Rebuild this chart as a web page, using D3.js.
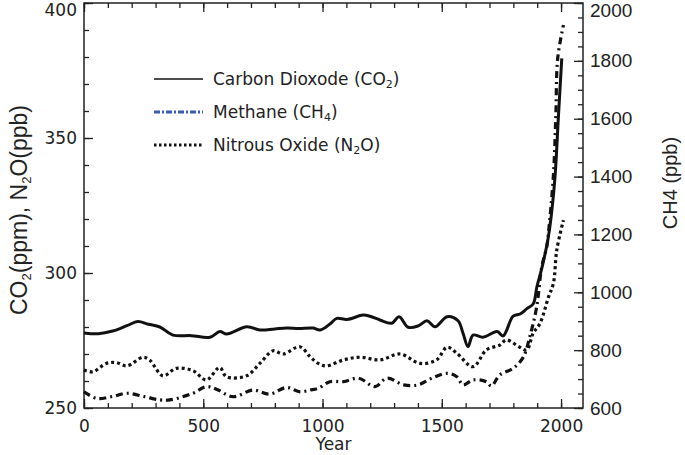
<!DOCTYPE html>
<html>
<head>
<meta charset="utf-8">
<script src="https://cdnjs.cloudflare.com/ajax/libs/d3/7.8.5/d3.min.js"></script>
<style>
  body { margin: 0; background: #fff; }
  text { fill: #222; }
</style>
</head>
<body>
<script>
// data
var co2Years = [0, 60, 120, 180, 226, 270, 318, 373, 450, 528, 570, 598, 683, 738, 800, 851, 900, 960, 990, 1031, 1060, 1102, 1170, 1199, 1241, 1290, 1321, 1359, 1401, 1438, 1472, 1522, 1568, 1589, 1610, 1631, 1673, 1732, 1757, 1799, 1828, 1858, 1883, 1899, 1920, 1946, 1960, 1975, 1989, 2003];
var co2Values = [277.8, 277.5, 278.5, 280.5, 282, 281, 280, 277, 276.8, 276.2, 278.3, 277.4, 280.1, 278.9, 279.3, 279.6, 279.4, 279.6, 278.9, 281.1, 283.2, 282.8, 284.4, 284, 282.6, 281.4, 283.8, 279.9, 280.4, 282.3, 280.1, 283.8, 282.3, 277.7, 272.7, 277, 276.2, 278.3, 276.7, 284, 284.8, 286.9, 288.5, 295, 302, 313, 322, 336, 358, 379.5];

var ch4Years = [0, 54, 120, 180, 250, 318, 360, 457, 513, 555, 625, 709, 779, 849, 906, 948, 982, 1031, 1088, 1151, 1220, 1270, 1340, 1401, 1458, 1522, 1563, 1589, 1631, 1687, 1708, 1743, 1799, 1841, 1870, 1898, 1919, 1940, 1947, 1968, 1978, 1986, 2010];
var ch4Values = [656, 633, 640, 651, 640, 628, 628, 651, 674, 665, 639, 662, 648, 671, 656, 662, 668, 691, 691, 703, 674, 703, 680, 680, 703, 720, 708, 680, 697, 691, 676, 714, 737, 775, 850, 950, 1088, 1157, 1204, 1405, 1607, 1809, 1924];

var n2oYears = [0, 37, 93, 135, 180, 247, 275, 331, 387, 457, 513, 569, 597, 681, 737, 793, 835, 905, 948, 982, 1017, 1088, 1158, 1241, 1325, 1409, 1478, 1522, 1563, 1631, 1687, 1743, 1771, 1827, 1856, 1883, 1912, 1947, 1968, 1982, 2010];
var n2oValues = [264.1, 263.4, 266.5, 266.8, 265.6, 268.8, 267.8, 261.9, 264.7, 263.8, 260.4, 265, 261.6, 261.9, 266.5, 271.2, 270, 272.7, 269, 266.5, 265.6, 267.8, 268.8, 267.8, 270, 266.5, 267.8, 272.5, 270.3, 265.3, 271.5, 273.3, 275.2, 272.5, 271.5, 277.7, 281.4, 291, 296.2, 308.5, 319.6];

var yearTicks = [0, 500, 1000, 1500, 2000];
var leftTicks = [250, 300, 350, 400];
var rightTicks = [600, 800, 1000, 1200, 1400, 1600, 1800, 2000];

var w = 685, h = 455;
var pLeft = 84, pRight = 583, pTop = 3, pBottom = 408;

var svg = d3.select("body").append("svg")
  .attr("width", w)
  .attr("height", h);

var x = d3.scaleLinear().domain([0, 2092]).range([pLeft, pRight]);
var yL = d3.scaleLinear().domain([250, 400]).range([pBottom, pTop]);
var yR = d3.scaleLinear().domain([600, 2000]).range([pBottom, pTop]);

var tickFont = "'DejaVu Sans', sans-serif";

// minor ticks first, then majors with labels
function styleAxis(g) {
  g.select(".domain").remove();
  g.selectAll("line").attr("stroke", "#222").attr("stroke-width", 1.3);
}

svg.append("g").attr("transform", "translate(0," + pBottom + ")")
  .call(d3.axisBottom(x).tickValues(d3.range(0, 2100, 100)).tickSize(-5).tickFormat(""))
  .call(styleAxis);
svg.append("g").attr("transform", "translate(0," + pBottom + ")")
  .call(d3.axisBottom(x).tickValues(yearTicks).tickSize(-9).tickPadding(12).tickFormat(d3.format("d")))
  .call(styleAxis)
  .selectAll("text").attr("font-family", tickFont).attr("font-size", 17).attr("fill", "#222");

svg.append("g").attr("transform", "translate(0," + pTop + ")")
  .call(d3.axisTop(x).tickValues(d3.range(0, 2100, 100)).tickSize(-5).tickFormat(""))
  .call(styleAxis);
svg.append("g").attr("transform", "translate(0," + pTop + ")")
  .call(d3.axisTop(x).tickValues(yearTicks).tickSize(-9).tickFormat(""))
  .call(styleAxis);

svg.append("g").attr("transform", "translate(" + pLeft + ",0)")
  .call(d3.axisLeft(yL).tickValues(d3.range(250, 401, 10)).tickSize(-5).tickFormat(""))
  .call(styleAxis);
svg.append("g").attr("transform", "translate(" + pLeft + ",0)")
  .call(d3.axisLeft(yL).tickValues(leftTicks).tickSize(-9).tickPadding(7).tickFormat(d3.format("d")))
  .call(styleAxis)
  .selectAll("text").attr("font-family", tickFont).attr("font-size", 17).attr("fill", "#222")
  .attr("y", function(d) { return d === 400 ? 7 : 0; });

svg.append("g").attr("transform", "translate(" + pRight + ",0)")
  .call(d3.axisRight(yR).tickValues(d3.range(600, 2001, 50)).tickSize(-5).tickFormat(""))
  .call(styleAxis);
svg.append("g").attr("transform", "translate(" + pRight + ",0)")
  .call(d3.axisRight(yR).tickValues(rightTicks).tickSize(-9).tickPadding(7).tickFormat(d3.format("d")))
  .call(styleAxis)
  .selectAll("text").attr("font-family", "'Liberation Sans', Arial, sans-serif").attr("font-size", 19).attr("fill", "#222")
  .attr("y", function(d) { return d === 2000 ? 7 : 0; });

// frame
svg.append("rect")
  .attr("x", pLeft).attr("y", pTop)
  .attr("width", pRight - pLeft).attr("height", pBottom - pTop)
  .attr("fill", "none").attr("stroke", "#222").attr("stroke-width", 1.5);

// series
var lineL = d3.line()
  .x(function(d) { return x(d[0]); })
  .y(function(d) { return yL(d[1]); })
  .curve(d3.curveCatmullRom);
var lineR = d3.line()
  .x(function(d) { return x(d[0]); })
  .y(function(d) { return yR(d[1]); })
  .curve(d3.curveCatmullRom);

svg.append("path")
  .datum(d3.zip(n2oYears, n2oValues))
  .attr("d", lineL)
  .attr("fill", "none").attr("stroke", "#111").attr("stroke-width", 3.2)
  .attr("stroke-dasharray", "3,3");

svg.append("path")
  .datum(d3.zip(ch4Years, ch4Values))
  .attr("d", lineR)
  .attr("fill", "none").attr("stroke", "#111").attr("stroke-width", 3.2)
  .attr("stroke-dasharray", "7,4,2,4");

svg.append("path")
  .datum(d3.zip(co2Years, co2Values))
  .attr("d", lineL)
  .attr("fill", "none").attr("stroke", "#111").attr("stroke-width", 3);

// legend
var legend = [
  { name: "Carbon Dioxode (CO", sub: "2", dash: null, color: "#111", width: 1.6 },
  { name: "Methane (CH", sub: "4", dash: "6,2,2,2", color: "#3b5bb0", width: 3 },
  { name: "Nitrous Oxide (N", sub: "2", after: "O)", dash: "2.5,2.5", color: "#111", width: 3 }
];
var legendY = [79, 112, 145];

legend.forEach(function(d, i) {
  var y = legendY[i];
  svg.append("line")
    .attr("x1", 154).attr("x2", 203)
    .attr("y1", y).attr("y2", y)
    .attr("stroke", d.color).attr("stroke-width", d.width)
    .attr("stroke-dasharray", d.dash);
  var t = svg.append("text")
    .attr("x", 213).attr("y", y + 6)
    .attr("font-family", tickFont).attr("font-size", 17);
  t.append("tspan").text(d.name);
  t.append("tspan").attr("font-size", 11).attr("dy", 3).text(d.sub);
  t.append("tspan").attr("dy", -3).text(d.after || ")");
});

// axis titles
svg.append("text")
  .attr("x", (pLeft + pRight) / 2).attr("y", 450)
  .attr("text-anchor", "middle")
  .attr("font-family", tickFont).attr("font-size", 17)
  .text("Year");

var lt = svg.append("text")
  .attr("transform", "translate(27,210) rotate(-90)")
  .attr("text-anchor", "middle")
  .attr("font-family", "'Liberation Sans', Arial, sans-serif").attr("font-size", 23);
lt.append("tspan").text("CO");
lt.append("tspan").attr("font-size", 13).attr("dy", 4).text("2");
lt.append("tspan").attr("dy", -4).text("(ppm), N");
lt.append("tspan").attr("font-size", 13).attr("dy", 4).text("2");
lt.append("tspan").attr("dy", -4).text("O(ppb)");

svg.append("text")
  .attr("transform", "translate(677,183) rotate(-90)")
  .attr("text-anchor", "middle")
  .attr("font-family", "'Liberation Sans', Arial, sans-serif").attr("font-size", 20)
  .text("CH4 (ppb)");
</script>
</body>
</html>
